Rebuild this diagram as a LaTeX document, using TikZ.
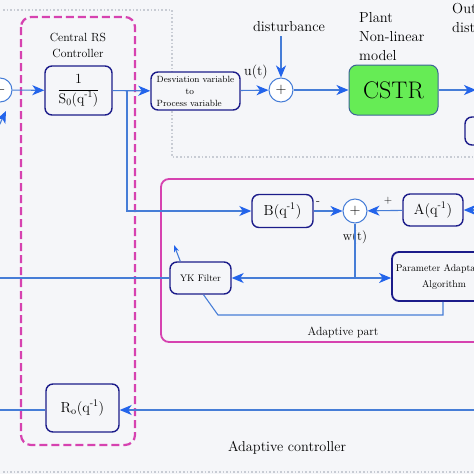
\documentclass[tikz,border=0pt]{standalone}
\usepackage{fontspec}
\usetikzlibrary{arrows.meta,calc}
\definecolor{bg}{RGB}{245,246,249}
\definecolor{navy}{RGB}{28,28,138}
\definecolor{lineblue}{RGB}{70,125,215}
\definecolor{tipblue}{RGB}{35,100,235}
\definecolor{mag}{RGB}{214,66,176}
\definecolor{dotgray}{RGB}{200,204,212}
\definecolor{cstrgreen}{RGB}{102,236,85}
\definecolor{cstrborder}{RGB}{60,100,150}
\newcommand{\fs}[2]{\fontsize{#1}{#2}\selectfont}
\newcommand{\qinv}{(q\textsuperscript{-1})}
\begin{document}
\begin{tikzpicture}[x=1pt,y=-1pt,
  blk/.style={draw=navy, line width=1.4pt, rounded corners=7pt, fill=bg, inner sep=0pt, align=center},
  sumc/.style={draw=lineblue, line width=1pt, circle, fill=white, minimum size=24pt, inner sep=0pt, font=\fs{14}{16}},
  ln/.style={draw=lineblue, line width=1.1pt},
  arr/.style={ln, -{Stealth[length=12pt,width=10pt,inset=3.5pt,color=tipblue]}},
  sarr/.style={ln, -{Stealth[length=7pt,width=5pt,inset=2pt,color=tipblue]}},
  lbl/.style={inner sep=0pt, align=center}]
\useasboundingbox (0,0) rectangle (474,474);
\clip (0,0) rectangle (474,474);
\fill[bg] (0,0) rectangle (474,474);
% dotted outline of adaptive controller
\draw[dotgray, line width=1.6pt, dotted] (3,10) -- (172,10) -- (172,157) -- (474,157);
\draw[dotgray, line width=1.6pt, dotted] (3,472) -- (474,472);
% central RS controller (dashed)
\draw[mag, line width=2.2pt, dash pattern=on 8pt off 4pt, rounded corners=10pt] (21,17) rectangle (135,445);
\node[lbl, font=\fs{11.8}{16}] (crs) at (78,45) {Central RS\\Controller};
% adaptive part (solid)
\draw[mag, line width=1.8pt, rounded corners=8pt] (161,179) rectangle (500,342);
\node[lbl, font=\fs{11.8}{14}] (ap) at (343,332) {Adaptive part};
\node[lbl, font=\fs{14.3}{16}] (ac) at (287,448) {Adaptive controller};
% top row
\node[sumc] (sumL) at (0,90) {$-$};
\node[blk, minimum width=67pt, minimum height=49pt, font=\fs{14}{16}] (S0) at (78.5,90.5) {$\displaystyle\frac{\hbox{1}}{\hbox{S\textsubscript{0}\qinv}}$};
\node[blk, minimum width=89pt, minimum height=38pt, font=\fs{9}{12}, align=left] (dev) at (195.5,91) {Desviation variable\\\hspace*{29pt}to\\Process variable};
\node[sumc] (sumT) at (281,90) {$+$};
\node[draw=cstrborder, line width=1pt, fill=cstrgreen, rounded corners=8pt, minimum width=89pt, minimum height=50pt, font=\fs{24}{26}] (cstr) at (393.5,90) {CSTR};
\node[blk, minimum width=50pt, minimum height=28pt] (rbox) at (490,131) {};
\node[lbl, font=\fs{14.5}{16}] (dist) at (289,27) {disturbance};
\node[lbl, align=left, anchor=west, font=\fs{14.5}{19}] (plant) at (359,37) {Plant\\Non-linear\\model};
\node[lbl, align=left, anchor=west, font=\fs{14.5}{19}] (odist) at (452,18) {Output\\disturbance};
\node[lbl, font=\fs{14}{16}] (ut) at (256,72) {u(t)};
\coordinate (distTop) at (281,36);
\coordinate (outR) at (476,90);
\coordinate (fbL) at (-4,132);
\coordinate (fbT) at (6,111);
\draw[arr] (sumL) -- (S0);
\draw[arr] (S0) -- (dev);
\draw[arr] (dev) -- (sumT);
\draw[arr] (distTop) -- (sumT);
\draw[arr] (sumT) -- (cstr);
\draw[arr] (cstr) -- (outR);
\draw[arr] (fbL) -- (fbT);
% adaptive part
\node[blk, minimum width=61pt, minimum height=33pt, font=\fs{14.5}{16}] (B) at (282.5,211) {B\qinv};
\node[sumc] (sumA) at (355,211) {$+$};
\node[blk, minimum width=60pt, minimum height=32pt, font=\fs{14.5}{16}] (A) at (433,210) {A\qinv};
\node[blk, minimum width=61pt, minimum height=32pt, font=\fs{9.5}{11}] (yk) at (200.5,278) {YK Filter};
\node[blk, line width=1.8pt, minimum width=104pt, minimum height=49pt, font=\fs{9.8}{16}] (paa) at (444,276.5) {Parameter Adaptation\\Algorithm};
\node[lbl, font=\fs{12}{14}] (minus) at (318,203) {-};
\node[lbl, font=\fs{11}{14}] (plus) at (388,201) {+};
\node[lbl, font=\fs{13}{14}] (wt) at (355,237) {w(t)};
\coordinate (brX) at (127,90);
\coordinate (brY) at (127,211);
\coordinate (aIn) at (476,210);
\coordinate (wj) at (355,278);
\coordinate (ykL) at (0,278);
\coordinate (ykArr) at (174,245);
\coordinate (pb1) at (443,315);
\coordinate (pb2) at (218,315);
\draw[arr] (brX) -- (brY) -- (B);
\draw[arr] (B) -- (sumA);
\draw[arr] (A) -- (sumA);
\draw[arr] (aIn) -- (A);
\draw[ln] (sumA) -- (wj);
\draw[arr] (wj) -- (yk);
\draw[arr] (wj) -- (paa.west|-wj);
\draw[ln] (ykL) -- (yk);
\draw[sarr] (yk.north west)++(11,0) -- (ykArr);
\draw[ln] (paa.south-|pb1) -- (pb1) -- (pb2) -- ($(yk.south)+(3,0)$);
% R0
\node[blk, minimum width=73pt, minimum height=48pt, font=\fs{14.5}{16}] (R0) at (82.5,408) {R\textsubscript{o}\qinv};
\coordinate (r0L) at (0,410);
\coordinate (r0R) at (476,410);
\draw[ln] (r0L) -- (R0.west|-r0L);
\draw[arr] (r0R) -- (R0.east|-r0R);
\end{tikzpicture}
\end{document}
